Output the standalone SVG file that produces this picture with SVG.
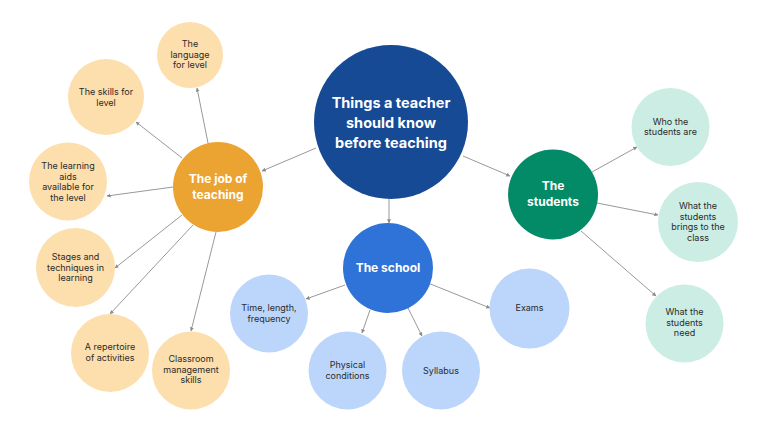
<svg xmlns="http://www.w3.org/2000/svg" width="768" height="431" viewBox="0 0 768 431">
<defs>
<marker id="ah" viewBox="0 0 6 6" refX="5.5" refY="3" markerWidth="4" markerHeight="4" orient="auto" markerUnits="userSpaceOnUse">
<path d="M0,0 L6,3 L0,6 z" fill="#8a8a8a"/>
</marker>
<style>
text{font-family:Inter,"Noto Sans","Liberation Sans",sans-serif;text-anchor:middle}
.big{font-size:14.5px;font-weight:700;fill:#fff}
.mid{font-size:12px;font-weight:700;fill:#fff}
.sm{font-size:9px;fill:#2b2b2b}
.main{fill:#174A94}
.job{fill:#EBA332}
.ljob{fill:#FDDEAD}
.sch{fill:#2F73D8}
.lsch{fill:#BCD6FB}
.stu{fill:#038A66}
.lstu{fill:#CBEDE4}
#connectors line{stroke:#999;stroke-width:1;marker-end:url(#ah)}
</style>
</defs>
<rect width="768" height="431" fill="#fff"/>
<g id="connectors">
<line x1="316" y1="148" x2="262" y2="171"/>
<line x1="389" y1="199" x2="389" y2="223"/>
<line x1="463" y1="156" x2="510" y2="176"/>
<line x1="208" y1="143" x2="197" y2="88"/>
<line x1="182" y1="158" x2="136" y2="122"/>
<line x1="173" y1="187" x2="107" y2="196"/>
<line x1="182" y1="215" x2="115" y2="268"/>
<line x1="193" y1="225" x2="110" y2="314"/>
<line x1="216" y1="232" x2="191" y2="331"/>
<line x1="345" y1="285" x2="306" y2="299"/>
<line x1="370" y1="310" x2="362" y2="333"/>
<line x1="408" y1="308" x2="422" y2="336"/>
<line x1="428" y1="283" x2="490" y2="308"/>
<line x1="592" y1="172" x2="637" y2="147"/>
<line x1="597" y1="203" x2="658" y2="215"/>
<line x1="581" y1="231" x2="656" y2="296"/>
</g>
<g id="main"><circle class="main" cx="391" cy="122" r="77"/>
<text class="big" x="391" y="108">Things a teacher</text>
<text class="big" x="391" y="128">should know</text>
<text class="big" x="391" y="148">before teaching</text></g>
<g id="job"><circle class="job" cx="218" cy="187" r="45"/>
<text class="mid" x="218" y="183">The job of</text>
<text class="mid" x="218" y="199">teaching</text></g>
<g id="language"><circle class="ljob" cx="190" cy="55" r="33"/>
<text class="sm" x="190" y="47">The</text>
<text class="sm" x="190" y="57.5">language</text>
<text class="sm" x="190" y="68">for level</text></g>
<g id="skills"><circle class="ljob" cx="106" cy="97" r="38"/>
<text class="sm" x="106" y="95">The skills for</text>
<text class="sm" x="106" y="105.5">level</text></g>
<g id="aids"><circle class="ljob" cx="68" cy="181.5" r="39"/>
<text class="sm" x="68" y="169">The learning</text>
<text class="sm" x="68" y="179.5">aids</text>
<text class="sm" x="68" y="190">available for</text>
<text class="sm" x="68" y="200.5">the level</text></g>
<g id="stages"><circle class="ljob" cx="75.5" cy="267.5" r="39.5"/>
<text class="sm" x="75.5" y="260">Stages and</text>
<text class="sm" x="75.5" y="270.5">techniques in</text>
<text class="sm" x="75.5" y="281">learning</text></g>
<g id="repertoire"><circle class="ljob" cx="110" cy="353" r="39"/>
<text class="sm" x="110" y="350">A repertoire</text>
<text class="sm" x="110" y="360.5">of activities</text></g>
<g id="classroom"><circle class="ljob" cx="191" cy="370.5" r="39"/>
<text class="sm" x="191" y="362">Classroom</text>
<text class="sm" x="191" y="372.5">management</text>
<text class="sm" x="191" y="383">skills</text></g>
<g id="school"><circle class="sch" cx="388" cy="268" r="45"/>
<text class="mid" x="388" y="272">The school</text></g>
<g id="time"><circle class="lsch" cx="269" cy="313.5" r="39"/>
<text class="sm" x="269" y="311">Time, length,</text>
<text class="sm" x="269" y="321.5">frequency</text></g>
<g id="physical"><circle class="lsch" cx="347.5" cy="370.5" r="39"/>
<text class="sm" x="347.5" y="368">Physical</text>
<text class="sm" x="347.5" y="378.5">conditions</text></g>
<g id="syllabus"><circle class="lsch" cx="441" cy="370.5" r="39"/>
<text class="sm" x="441" y="373.5">Syllabus</text></g>
<g id="exams"><circle class="lsch" cx="529.5" cy="308.5" r="40"/>
<text class="sm" x="529.5" y="311">Exams</text></g>
<g id="students"><circle class="stu" cx="553" cy="194.5" r="45"/>
<text class="mid" x="553" y="190">The</text>
<text class="mid" x="553" y="206">students</text></g>
<g id="who"><circle class="lstu" cx="670.5" cy="127" r="39"/>
<text class="sm" x="670.5" y="124.5">Who the</text>
<text class="sm" x="670.5" y="135">students are</text></g>
<g id="brings"><circle class="lstu" cx="698" cy="222" r="40"/>
<text class="sm" x="698" y="209">What the</text>
<text class="sm" x="698" y="219.5">students</text>
<text class="sm" x="698" y="230">brings to the</text>
<text class="sm" x="698" y="240.5">class</text></g>
<g id="need"><circle class="lstu" cx="684.5" cy="323.5" r="39"/>
<text class="sm" x="684.5" y="315">What the</text>
<text class="sm" x="684.5" y="325.5">students</text>
<text class="sm" x="684.5" y="336">need</text></g>
</svg>
